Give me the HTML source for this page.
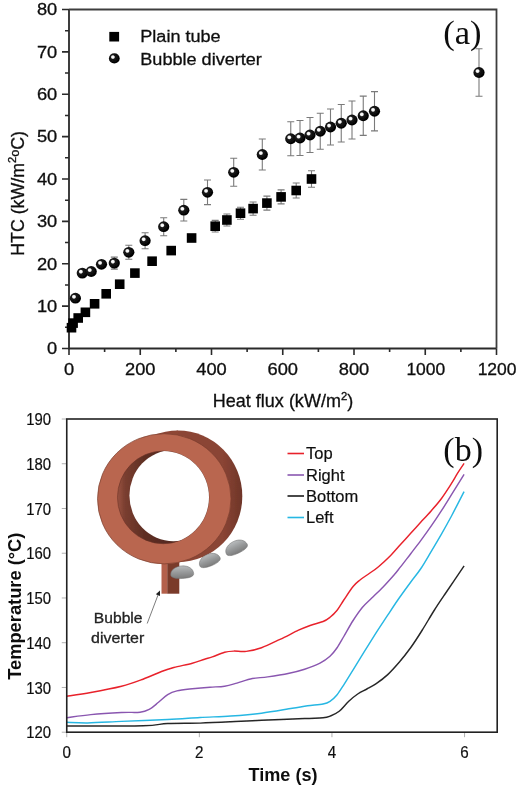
<!DOCTYPE html>
<html><head><meta charset="utf-8"><title>Figure</title><style>html,body{margin:0;padding:0;background:#fff}body{width:520px;height:786px;position:relative;overflow:hidden}</style></head><body>
<svg width="520" height="786" viewBox="0 0 520 786" style="position:absolute;left:0;top:0">
<defs><radialGradient id="sg" cx="0.37" cy="0.37" r="0.6" fx="0.37" fy="0.37"><stop offset="0" stop-color="#fff"/><stop offset="0.2" stop-color="#f4f4f4"/><stop offset="0.36" stop-color="#1a1a1a"/><stop offset="1" stop-color="#000"/></radialGradient>
<linearGradient id="inner" x1="0" y1="0" x2="1" y2="0"><stop offset="0" stop-color="#9a5341"/><stop offset="0.08" stop-color="#7a3e30"/><stop offset="0.3" stop-color="#5e2e23"/><stop offset="1" stop-color="#46221a"/></linearGradient>
<linearGradient id="side" x1="0" y1="0" x2="1" y2="0"><stop offset="0" stop-color="#8e4636"/><stop offset="0.85" stop-color="#8a4434"/><stop offset="1" stop-color="#6e3528"/></linearGradient><linearGradient id="bub" x1="0" y1="0" x2="0" y2="1"><stop offset="0" stop-color="#b9bcbe"/><stop offset="0.5" stop-color="#989a9b"/><stop offset="1" stop-color="#7b7b7b"/></linearGradient>
<filter id="bl" x="-5%" y="-5%" width="110%" height="110%"><feGaussianBlur stdDeviation="0.45"/></filter>
</defs>
<rect width="520" height="786" fill="#fff"/>
<g filter="url(#bl)">
<g stroke="#2a2a2a" stroke-width="1.8" fill="none">
<path d="M69 9.5V348.5H496.5"/>
</g>
<path d="M69 9.5H496.5V348.5" stroke="#3c3c3c" stroke-width="1.8" fill="none"/>
<path d="M62 348.50H69M65 327.31H69M62 306.12H69M65 284.94H69M62 263.75H69M65 242.56H69M62 221.38H69M65 200.19H69M62 179.00H69M65 157.81H69M62 136.62H69M65 115.44H69M62 94.25H69M65 73.06H69M62 51.88H69M65 30.69H69M62 9.50H69M69.00 348.5V355.0M104.62 348.5V352.0M140.25 348.5V355.0M175.88 348.5V352.0M211.50 348.5V355.0M247.12 348.5V352.0M282.75 348.5V355.0M318.38 348.5V352.0M354.00 348.5V355.0M389.62 348.5V352.0M425.25 348.5V355.0M460.88 348.5V352.0M496.50 348.5V355.0" stroke="#2a2a2a" stroke-width="1.6" fill="none"/>
<g font-family="Liberation Sans, Arial, sans-serif" fill="#111" stroke="#111" stroke-width="0.3">
<text transform="translate(57.30,354.30) scale(1.13,1)" font-size="16.2" text-anchor="end" >0</text>
<text transform="translate(57.30,311.93) scale(1.13,1)" font-size="16.2" text-anchor="end" >10</text>
<text transform="translate(57.30,269.55) scale(1.13,1)" font-size="16.2" text-anchor="end" >20</text>
<text transform="translate(57.30,227.18) scale(1.13,1)" font-size="16.2" text-anchor="end" >30</text>
<text transform="translate(57.30,184.80) scale(1.13,1)" font-size="16.2" text-anchor="end" >40</text>
<text transform="translate(57.30,142.43) scale(1.13,1)" font-size="16.2" text-anchor="end" >50</text>
<text transform="translate(57.30,100.05) scale(1.13,1)" font-size="16.2" text-anchor="end" >60</text>
<text transform="translate(57.30,57.67) scale(1.13,1)" font-size="16.2" text-anchor="end" >70</text>
<text transform="translate(57.30,15.30) scale(1.13,1)" font-size="16.2" text-anchor="end" >80</text>
<text transform="translate(69.00,374.80) scale(1.13,1)" font-size="16.2" text-anchor="middle" >0</text>
<text transform="translate(140.25,374.80) scale(1.13,1)" font-size="16.2" text-anchor="middle" >200</text>
<text transform="translate(211.50,374.80) scale(1.13,1)" font-size="16.2" text-anchor="middle" >400</text>
<text transform="translate(282.75,374.80) scale(1.13,1)" font-size="16.2" text-anchor="middle" >600</text>
<text transform="translate(354.00,374.80) scale(1.13,1)" font-size="16.2" text-anchor="middle" >800</text>
<text transform="translate(425.85,374.80) scale(1.08,1)" font-size="16.2" text-anchor="middle" >1000</text>
<text transform="translate(497.10,374.80) scale(1.08,1)" font-size="16.2" text-anchor="middle" >1200</text>
<text transform="translate(283.00,407.30) scale(1.03,1)" font-size="17.5" text-anchor="middle" >Heat flux (kW/m<tspan dy="-7" font-size="11">2</tspan><tspan dy="7">)</tspan></text>
<text transform="translate(23.90,193.40) rotate(-90) scale(1.015,1)" font-size="17.5" text-anchor="middle" >HTC (kW/m<tspan dy="-7.5" font-size="11">2</tspan><tspan dy="3" font-size="12.5">o</tspan><tspan dy="4.5">C)</tspan></text>
<text transform="translate(140.30,42.30) scale(1.13,1)" font-size="16" text-anchor="start" >Plain tube</text>
<text transform="translate(140.30,64.50) scale(1.13,1)" font-size="16" text-anchor="start" >Bubble diverter</text>
</g>
<text x="462.4" y="43.7" text-anchor="middle" font-family="Liberation Serif, Times New Roman, serif" font-size="34.6" fill="#111">(a)</text>
<path d="M215.20 220.40V232.00M211.70 220.40h7M211.70 232.00h7M226.90 214.00V226.00M223.40 214.00h7M223.40 226.00h7M240.50 207.20V219.20M237.00 207.20h7M237.00 219.20h7M253.10 202.00V215.20M249.60 202.00h7M249.60 215.20h7M266.90 196.10V210.10M263.40 196.10h7M263.40 210.10h7M281.10 189.90V203.90M277.60 189.90h7M277.60 203.90h7M296.20 183.00V198.00M292.70 183.00h7M292.70 198.00h7M311.50 170.70V187.30M308.00 170.70h7M308.00 187.30h7M101.50 261.30V267.30M98.00 261.30h7M98.00 267.30h7M114.30 257.10V269.10M110.80 257.10h7M110.80 269.10h7M128.80 245.30V259.30M125.30 245.30h7M125.30 259.30h7M145.10 232.70V248.70M141.60 232.70h7M141.60 248.70h7M163.70 217.70V235.70M160.20 217.70h7M160.20 235.70h7M183.80 199.40V221.00M180.30 199.40h7M180.30 221.00h7M207.50 180.00V204.60M204.00 180.00h7M204.00 204.60h7M233.70 158.30V186.30M230.20 158.30h7M230.20 186.30h7M262.30 139.00V170.00M258.80 139.00h7M258.80 170.00h7M290.75 121.75V155.75M287.25 121.75h7M287.25 155.75h7M300.00 120.50V155.50M296.50 120.50h7M296.50 155.50h7M310.00 117.50V152.50M306.50 117.50h7M306.50 152.50h7M320.25 113.25V149.25M316.75 113.25h7M316.75 149.25h7M330.50 109.00V145.00M327.00 109.00h7M327.00 145.00h7M341.25 104.55V141.95M337.75 104.55h7M337.75 141.95h7M352.00 101.00V139.00M348.50 101.00h7M348.50 139.00h7M363.25 96.15V135.35M359.75 96.15h7M359.75 135.35h7M374.50 91.65V130.85M371.00 91.65h7M371.00 130.85h7M479.00 48.75V96.25M475.50 48.75h7M475.50 96.25h7" stroke="#7a7a7a" stroke-width="1.1" fill="none"/>
<rect x="66.70" y="322.90" width="9.6" height="9.6" fill="#000"/>
<rect x="68.30" y="318.30" width="9.6" height="9.6" fill="#000"/>
<rect x="73.40" y="313.20" width="9.6" height="9.6" fill="#000"/>
<rect x="80.60" y="307.50" width="9.6" height="9.6" fill="#000"/>
<rect x="89.80" y="299.00" width="9.6" height="9.6" fill="#000"/>
<rect x="101.40" y="289.00" width="9.6" height="9.6" fill="#000"/>
<rect x="114.90" y="279.40" width="9.6" height="9.6" fill="#000"/>
<rect x="130.10" y="268.30" width="9.6" height="9.6" fill="#000"/>
<rect x="147.30" y="256.40" width="9.6" height="9.6" fill="#000"/>
<rect x="166.40" y="245.80" width="9.6" height="9.6" fill="#000"/>
<rect x="186.80" y="233.20" width="9.6" height="9.6" fill="#000"/>
<rect x="210.40" y="221.40" width="9.6" height="9.6" fill="#000"/>
<rect x="222.10" y="215.20" width="9.6" height="9.6" fill="#000"/>
<rect x="235.70" y="208.40" width="9.6" height="9.6" fill="#000"/>
<rect x="248.30" y="203.80" width="9.6" height="9.6" fill="#000"/>
<rect x="262.10" y="198.30" width="9.6" height="9.6" fill="#000"/>
<rect x="276.30" y="192.10" width="9.6" height="9.6" fill="#000"/>
<rect x="291.40" y="185.70" width="9.6" height="9.6" fill="#000"/>
<rect x="306.70" y="174.20" width="9.6" height="9.6" fill="#000"/>
<rect x="109.3" y="31.9" width="9.8" height="9.6" fill="#000"/>
<ellipse cx="75.40" cy="298.20" rx="5.6" ry="5.4" fill="url(#sg)"/>
<ellipse cx="82.30" cy="273.10" rx="5.6" ry="5.4" fill="url(#sg)"/>
<ellipse cx="91.20" cy="271.50" rx="5.6" ry="5.4" fill="url(#sg)"/>
<ellipse cx="101.50" cy="264.30" rx="5.6" ry="5.4" fill="url(#sg)"/>
<ellipse cx="114.30" cy="263.10" rx="5.6" ry="5.4" fill="url(#sg)"/>
<ellipse cx="128.80" cy="252.30" rx="5.6" ry="5.4" fill="url(#sg)"/>
<ellipse cx="145.10" cy="240.70" rx="5.6" ry="5.4" fill="url(#sg)"/>
<ellipse cx="163.70" cy="226.70" rx="5.6" ry="5.4" fill="url(#sg)"/>
<ellipse cx="183.80" cy="210.20" rx="5.6" ry="5.4" fill="url(#sg)"/>
<ellipse cx="207.50" cy="192.30" rx="5.6" ry="5.4" fill="url(#sg)"/>
<ellipse cx="233.70" cy="172.30" rx="5.6" ry="5.4" fill="url(#sg)"/>
<ellipse cx="262.30" cy="154.50" rx="5.6" ry="5.4" fill="url(#sg)"/>
<ellipse cx="290.75" cy="138.75" rx="5.6" ry="5.4" fill="url(#sg)"/>
<ellipse cx="300.00" cy="138.00" rx="5.6" ry="5.4" fill="url(#sg)"/>
<ellipse cx="310.00" cy="135.00" rx="5.6" ry="5.4" fill="url(#sg)"/>
<ellipse cx="320.25" cy="131.25" rx="5.6" ry="5.4" fill="url(#sg)"/>
<ellipse cx="330.50" cy="127.00" rx="5.6" ry="5.4" fill="url(#sg)"/>
<ellipse cx="341.25" cy="123.25" rx="5.6" ry="5.4" fill="url(#sg)"/>
<ellipse cx="352.00" cy="120.00" rx="5.6" ry="5.4" fill="url(#sg)"/>
<ellipse cx="363.25" cy="115.75" rx="5.6" ry="5.4" fill="url(#sg)"/>
<ellipse cx="374.50" cy="111.25" rx="5.6" ry="5.4" fill="url(#sg)"/>
<ellipse cx="479.00" cy="72.50" rx="5.6" ry="5.4" fill="url(#sg)"/>
<ellipse cx="114.3" cy="58.4" rx="5.4" ry="5.1" fill="url(#sg)"/>
<path d="M61.75 732.20H66.75M61.75 687.46H66.75M61.75 642.71H66.75M61.75 597.97H66.75M61.75 553.23H66.75M61.75 508.49H66.75M61.75 463.74H66.75M61.75 419.00H66.75M66.75 732.2V737.2M199.35 732.2V737.2M331.95 732.2V737.2M464.55 732.2V737.2" stroke="#b0b0b0" stroke-width="1" fill="none"/>
<g font-family="Liberation Sans, Arial, sans-serif" font-size="16" fill="#111" stroke="#111" stroke-width="0.2">
<text transform="translate(51.00,738.30) scale(0.93,1)" font-size="16" text-anchor="end" >120</text>
<text transform="translate(51.00,693.56) scale(0.93,1)" font-size="16" text-anchor="end" >130</text>
<text transform="translate(51.00,648.81) scale(0.93,1)" font-size="16" text-anchor="end" >140</text>
<text transform="translate(51.00,604.07) scale(0.93,1)" font-size="16" text-anchor="end" >150</text>
<text transform="translate(51.00,559.33) scale(0.93,1)" font-size="16" text-anchor="end" >160</text>
<text transform="translate(51.00,514.59) scale(0.93,1)" font-size="16" text-anchor="end" >170</text>
<text transform="translate(51.00,469.84) scale(0.93,1)" font-size="16" text-anchor="end" >180</text>
<text transform="translate(51.00,425.10) scale(0.93,1)" font-size="16" text-anchor="end" >190</text>
<text transform="translate(66.75,757.60) scale(0.95,1)" font-size="16" text-anchor="middle" >0</text>
<text transform="translate(199.35,757.60) scale(0.95,1)" font-size="16" text-anchor="middle" >2</text>
<text transform="translate(331.95,757.60) scale(0.95,1)" font-size="16" text-anchor="middle" >4</text>
<text transform="translate(464.55,757.60) scale(0.95,1)" font-size="16" text-anchor="middle" >6</text>
<text x="306" y="459.3" font-size="16.5">Top</text>
<text x="306" y="480.6" font-size="16.5">Right</text>
<text x="306" y="501.6" font-size="16.5">Bottom</text>
<text x="306" y="522.8" font-size="16.5">Left</text>
<text x="283" y="780.7" text-anchor="middle" font-weight="bold" font-size="18.1" stroke="none">Time (s)</text>
<text transform="translate(21.3,606.2) rotate(-90)" text-anchor="middle" font-weight="bold" font-size="18.3" stroke="none">Temperature (°C)</text>
</g>
<text x="463.2" y="460.5" text-anchor="middle" font-family="Liberation Serif, Times New Roman, serif" font-size="34" fill="#111">(b)</text>
<g font-family="Liberation Sans, Arial, sans-serif" font-size="15.2" fill="#222" stroke="#222" stroke-width="0.3" text-anchor="middle"><text transform="translate(118.2,623.2) scale(1.03,1)">Bubble</text><text transform="translate(117.7,643) scale(1.05,1)">diverter</text></g>
<path d="M287.5 453.5H304" stroke="#e8212b" stroke-width="1.6"/>
<path d="M287.5 475H304" stroke="#8a57b0" stroke-width="1.6"/>
<path d="M287.5 496H304" stroke="#1a1a1a" stroke-width="1.6"/>
<path d="M287.5 517.5H304" stroke="#27b7e3" stroke-width="1.6"/>
<g>
<ellipse cx="178" cy="496.3" rx="64.3" ry="65.8" fill="url(#side)"/>
<path d="M164 433.6 L178 430.5 L178 562.1 L164 563.9Z" fill="#8e4636"/>
<rect x="161.5" y="560" width="6" height="33.7" fill="#b4604b"/>
<rect x="167.3" y="560" width="12" height="33.7" fill="#7a3a2c"/>
<ellipse cx="164.25" cy="498.8" rx="66.75" ry="65.1" fill="#b9664f" stroke="#7a3d2e" stroke-width="0.7"/>
<ellipse cx="163.25" cy="497.35" rx="45.75" ry="46.35" fill="url(#inner)" stroke="#6b3326" stroke-width="0.6"/>
<clipPath id="hc"><ellipse cx="163.25" cy="497.35" rx="45.75" ry="46.35"/></clipPath>
<ellipse cx="173.4" cy="495.6" rx="44" ry="45.6" fill="#fff" clip-path="url(#hc)"/>
</g>
<g fill="url(#bub)" stroke="#6f6f6f" stroke-width="0.5">
<path d="M-11.5 2C-11.5 -3.5 -5.5 -6.4 0.5 -6.4C6.5 -6.4 11.5 -3 11.5 2C11.5 5 6 6.2 0 6.2C-6 6.2 -11.5 5 -11.5 2Z" transform="translate(182.1,572.3) rotate(-3)"/>
<path d="M-11.5 2C-11.5 -3.5 -5.5 -6.4 0.5 -6.4C6.5 -6.4 11.5 -3 11.5 2C11.5 5 6 6.2 0 6.2C-6 6.2 -11.5 5 -11.5 2Z" transform="translate(209.3,560.2) rotate(-22) scale(0.95)"/>
<path d="M-11.5 2C-11.5 -3.5 -5.5 -6.4 0.5 -6.4C6.5 -6.4 11.5 -3 11.5 2C11.5 5 6 6.2 0 6.2C-6 6.2 -11.5 5 -11.5 2Z" transform="translate(236,547.4) rotate(-25)"/>
</g>
<path d="M147.2 623.5L158.4 594" stroke="#5a5a5a" stroke-width="0.8"/>
<path d="M160 590.5L155.8 594.2L160 596Z" fill="#222"/>
<path d="M66.8 696.2C70.8 695.6 81.7 694.1 90.8 692.5C99.9 690.9 112.8 688.5 121.5 686.3C130.2 684.1 136.3 681.7 143.0 679.2C149.7 676.7 156.4 673.5 161.5 671.5C166.6 669.5 168.7 668.9 173.8 667.5C178.9 666.1 187.2 664.6 192.3 663.2C197.4 661.8 201.3 660.2 204.6 659.2C207.9 658.2 209.0 658.0 212.3 656.9C215.6 655.8 221.0 653.3 224.6 652.3C228.2 651.3 230.2 651.2 233.8 651.1C237.4 651.0 241.6 652.0 246.2 651.4C250.8 650.8 255.9 649.7 261.5 647.7C267.1 645.7 273.8 642.3 280.0 639.4C286.2 636.5 293.4 632.6 298.5 630.2C303.6 627.8 306.7 626.7 310.8 625.2C314.9 623.8 319.9 622.8 323.1 621.5C326.3 620.2 327.7 619.1 330.0 617.3C332.3 615.5 334.6 613.4 336.9 610.5C339.2 607.6 341.1 604.0 343.8 600.0C346.5 596.0 350.4 589.8 353.1 586.5C355.8 583.2 357.3 582.2 360.0 580.0C362.7 577.8 366.1 575.7 369.2 573.5C372.3 571.3 375.0 569.7 378.5 566.7C382.0 563.7 386.7 559.4 390.4 555.7C394.1 552.0 397.1 548.2 400.5 544.5C403.9 540.8 407.3 537.0 410.7 533.3C414.1 529.6 417.5 525.8 420.9 522.1C424.3 518.4 427.7 514.8 431.1 510.9C434.5 507.0 437.9 503.3 441.3 498.7C444.7 494.1 448.8 487.6 451.5 483.4C454.2 479.1 455.5 476.5 457.6 473.2C459.7 469.9 463.0 465.0 464.1 463.4" stroke="#e8212b" stroke-width="1.45" fill="none" stroke-linejoin="round"/>
<path d="M66.8 717.7C70.8 717.2 81.7 715.5 90.8 714.6C99.9 713.7 113.3 712.9 121.5 712.5C129.7 712.1 135.4 712.7 140.0 712.2C144.6 711.7 146.1 711.0 149.2 709.4C152.3 707.8 155.4 704.8 158.5 702.3C161.6 699.8 164.6 696.5 167.7 694.6C170.8 692.7 172.8 691.9 176.9 690.9C181.0 689.9 186.8 689.4 192.3 688.8C197.8 688.2 204.6 687.6 210.0 687.2C215.4 686.8 220.1 686.9 224.6 686.2C229.1 685.5 232.3 684.4 236.9 683.1C241.5 681.8 247.2 679.5 252.3 678.5C257.4 677.5 261.6 677.8 267.7 676.9C273.8 676.0 283.0 674.5 289.2 673.2C295.4 671.9 299.5 670.9 304.6 669.2C309.7 667.5 315.8 665.2 320.0 663.1C324.2 661.0 327.2 658.8 330.0 656.3C332.8 653.8 334.6 651.3 336.9 648.0C339.2 644.7 341.1 641.1 343.8 636.5C346.5 631.9 350.0 625.3 353.1 620.5C356.2 615.7 359.2 611.2 362.3 607.5C365.4 603.8 368.0 601.7 371.5 598.3C375.0 594.9 379.2 591.0 383.1 587.0C387.0 583.0 391.7 577.6 394.6 574.3C397.5 570.9 397.8 570.3 400.5 566.9C403.2 563.5 407.3 558.1 410.7 553.7C414.1 549.3 417.5 545.0 420.9 540.4C424.3 535.8 427.7 531.1 431.1 526.2C434.5 521.3 437.9 516.2 441.3 510.9C444.7 505.6 447.7 500.7 451.5 494.6C455.3 488.5 462.0 477.7 464.1 474.3" stroke="#8a57b0" stroke-width="1.45" fill="none" stroke-linejoin="round"/>
<path d="M66.8 722.3C70.3 722.4 78.6 723.0 87.7 722.9C96.8 722.8 108.2 722.0 121.5 721.4C134.8 720.8 154.6 720.1 167.7 719.5C180.8 718.9 189.5 718.1 200.0 717.5C210.5 716.9 220.6 716.7 230.8 716.0C241.1 715.3 251.2 714.5 261.5 713.2C271.8 711.9 284.6 709.5 292.3 708.3C300.0 707.1 302.6 706.5 307.7 705.8C312.8 705.1 319.4 704.8 323.1 704.0C326.8 703.2 327.7 702.8 330.0 701.3C332.3 699.8 334.6 697.8 336.9 695.0C339.2 692.2 341.1 689.0 343.8 684.8C346.5 680.6 349.6 675.4 353.1 669.8C356.6 664.2 360.8 657.4 364.6 651.2C368.5 645.0 372.4 638.7 376.2 632.7C380.0 626.7 383.9 621.0 387.7 615.2C391.5 609.4 395.3 603.5 399.2 598.0C403.1 592.5 407.2 586.9 410.8 582.0C414.4 577.1 417.5 573.6 420.9 568.5C424.3 563.4 427.7 557.3 431.1 551.6C434.5 545.9 437.9 540.2 441.3 534.3C444.7 528.4 447.7 523.1 451.5 516.0C455.3 508.9 462.0 495.7 464.1 491.6" stroke="#27b7e3" stroke-width="1.45" fill="none" stroke-linejoin="round"/>
<path d="M66.8 726.0C79.5 726.0 126.2 726.1 143.0 725.7C159.8 725.3 158.2 723.9 167.7 723.5C177.2 723.1 189.5 723.4 200.0 723.1C210.5 722.8 220.6 722.3 230.8 721.8C241.1 721.3 249.2 720.8 261.5 720.3C273.8 719.8 294.3 718.9 304.6 718.5C314.9 718.1 318.9 718.2 323.1 717.8C327.3 717.4 327.3 717.3 330.0 716.2C332.7 715.1 336.1 713.8 339.2 711.3C342.3 708.8 345.4 704.4 348.5 701.5C351.6 698.6 354.6 696.1 357.7 694.0C360.8 691.9 363.8 690.7 366.9 689.0C370.0 687.3 372.7 686.0 376.2 683.6C379.7 681.2 383.9 678.2 387.7 674.6C391.5 671.0 395.3 666.7 399.2 662.2C403.1 657.7 406.9 652.9 410.8 647.5C414.7 642.1 418.5 636.1 422.3 630.0C426.1 623.9 430.0 617.1 433.8 611.0C437.6 604.9 440.3 601.0 445.4 593.5C450.4 586.0 461.0 570.5 464.1 565.9" stroke="#262626" stroke-width="1.45" fill="none" stroke-linejoin="round"/>
<rect x="66.75" y="419" width="430.45" height="313.20000000000005" fill="none" stroke="#222" stroke-width="1.6"/>
</g>
</svg>
</body></html>
